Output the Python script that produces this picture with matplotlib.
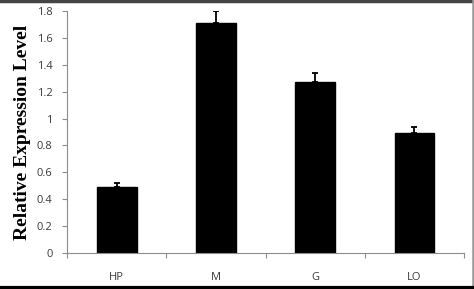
import matplotlib
matplotlib.use('Agg')
from matplotlib import pyplot as plt
from matplotlib.lines import Line2D
import numpy as np

categories = ['HP', 'M', 'G', 'LO']
expression = [0.49, 1.71, 1.275, 0.895]
errors = [0.03, 0.09, 0.065, 0.045]
ytick_values = [0, 0.2, 0.4, 0.6, 0.8, 1, 1.2, 1.4, 1.6, 1.8]
ytick_labels = ['0', '0.2', '0.4', '0.6', '0.8', '1', '1.2', '1.4', '1.6', '1.8']

axis_gray = '#8c8c8c'
text_gray = '#3a3a3a'

fig = plt.figure(figsize=(4.74, 2.89), dpi=100)
ax = fig.add_axes([0.1414, 0.1246, 0.8376, 0.8374])

x = np.arange(len(categories))
ax.bar(x, expression, width=0.4, color='black', edgecolor='black')
# only the upper half of the error bar, like Excel's "plus" style
ax.errorbar(x, expression, yerr=[np.zeros(len(errors)), errors], fmt='none',
            ecolor='black', elinewidth=1.3, capsize=2.2, capthick=1.3)

ax.set_xlim(-0.5, len(categories) - 0.5)
ax.set_ylim(0, 1.8)

ax.set_yticks(ytick_values)
ax.set_yticklabels(ytick_labels, family='Open Sans', fontsize=8, color=text_gray)

# ticks at category boundaries, labels in the middle
ax.set_xticks(np.arange(len(categories) + 1) - 0.5)
ax.set_xticklabels([])
ax.set_xticks(x, minor=True)
ax.set_xticklabels(categories, minor=True, family='Open Sans', fontsize=8, color=text_gray)
ax.tick_params(axis='x', which='minor', length=0, pad=13.5)
ax.tick_params(axis='x', which='major', length=3.5, color=axis_gray, width=0.8)
ax.tick_params(axis='y', length=3.5, color=axis_gray, width=0.8, pad=7)

for side in ['top', 'right']:
    ax.spines[side].set_visible(False)
for side in ['left', 'bottom']:
    ax.spines[side].set_color(axis_gray)
    ax.spines[side].set_linewidth(0.8)

ax.set_ylabel('Relative Expression Level', family='Liberation Serif',
              fontweight='bold', fontsize=14, color='black', labelpad=4)

# frame of the screenshot
fig.add_artist(Line2D([0, 1], [0.995, 0.995], transform=fig.transFigure, color='#444444', lw=2.5))
fig.add_artist(Line2D([0.997, 0.997], [0, 1], transform=fig.transFigure, color='#999999', lw=1.8))
fig.add_artist(Line2D([0, 1], [0.005, 0.005], transform=fig.transFigure, color='black', lw=3))

fig.savefig('out.png', dpi=100)
